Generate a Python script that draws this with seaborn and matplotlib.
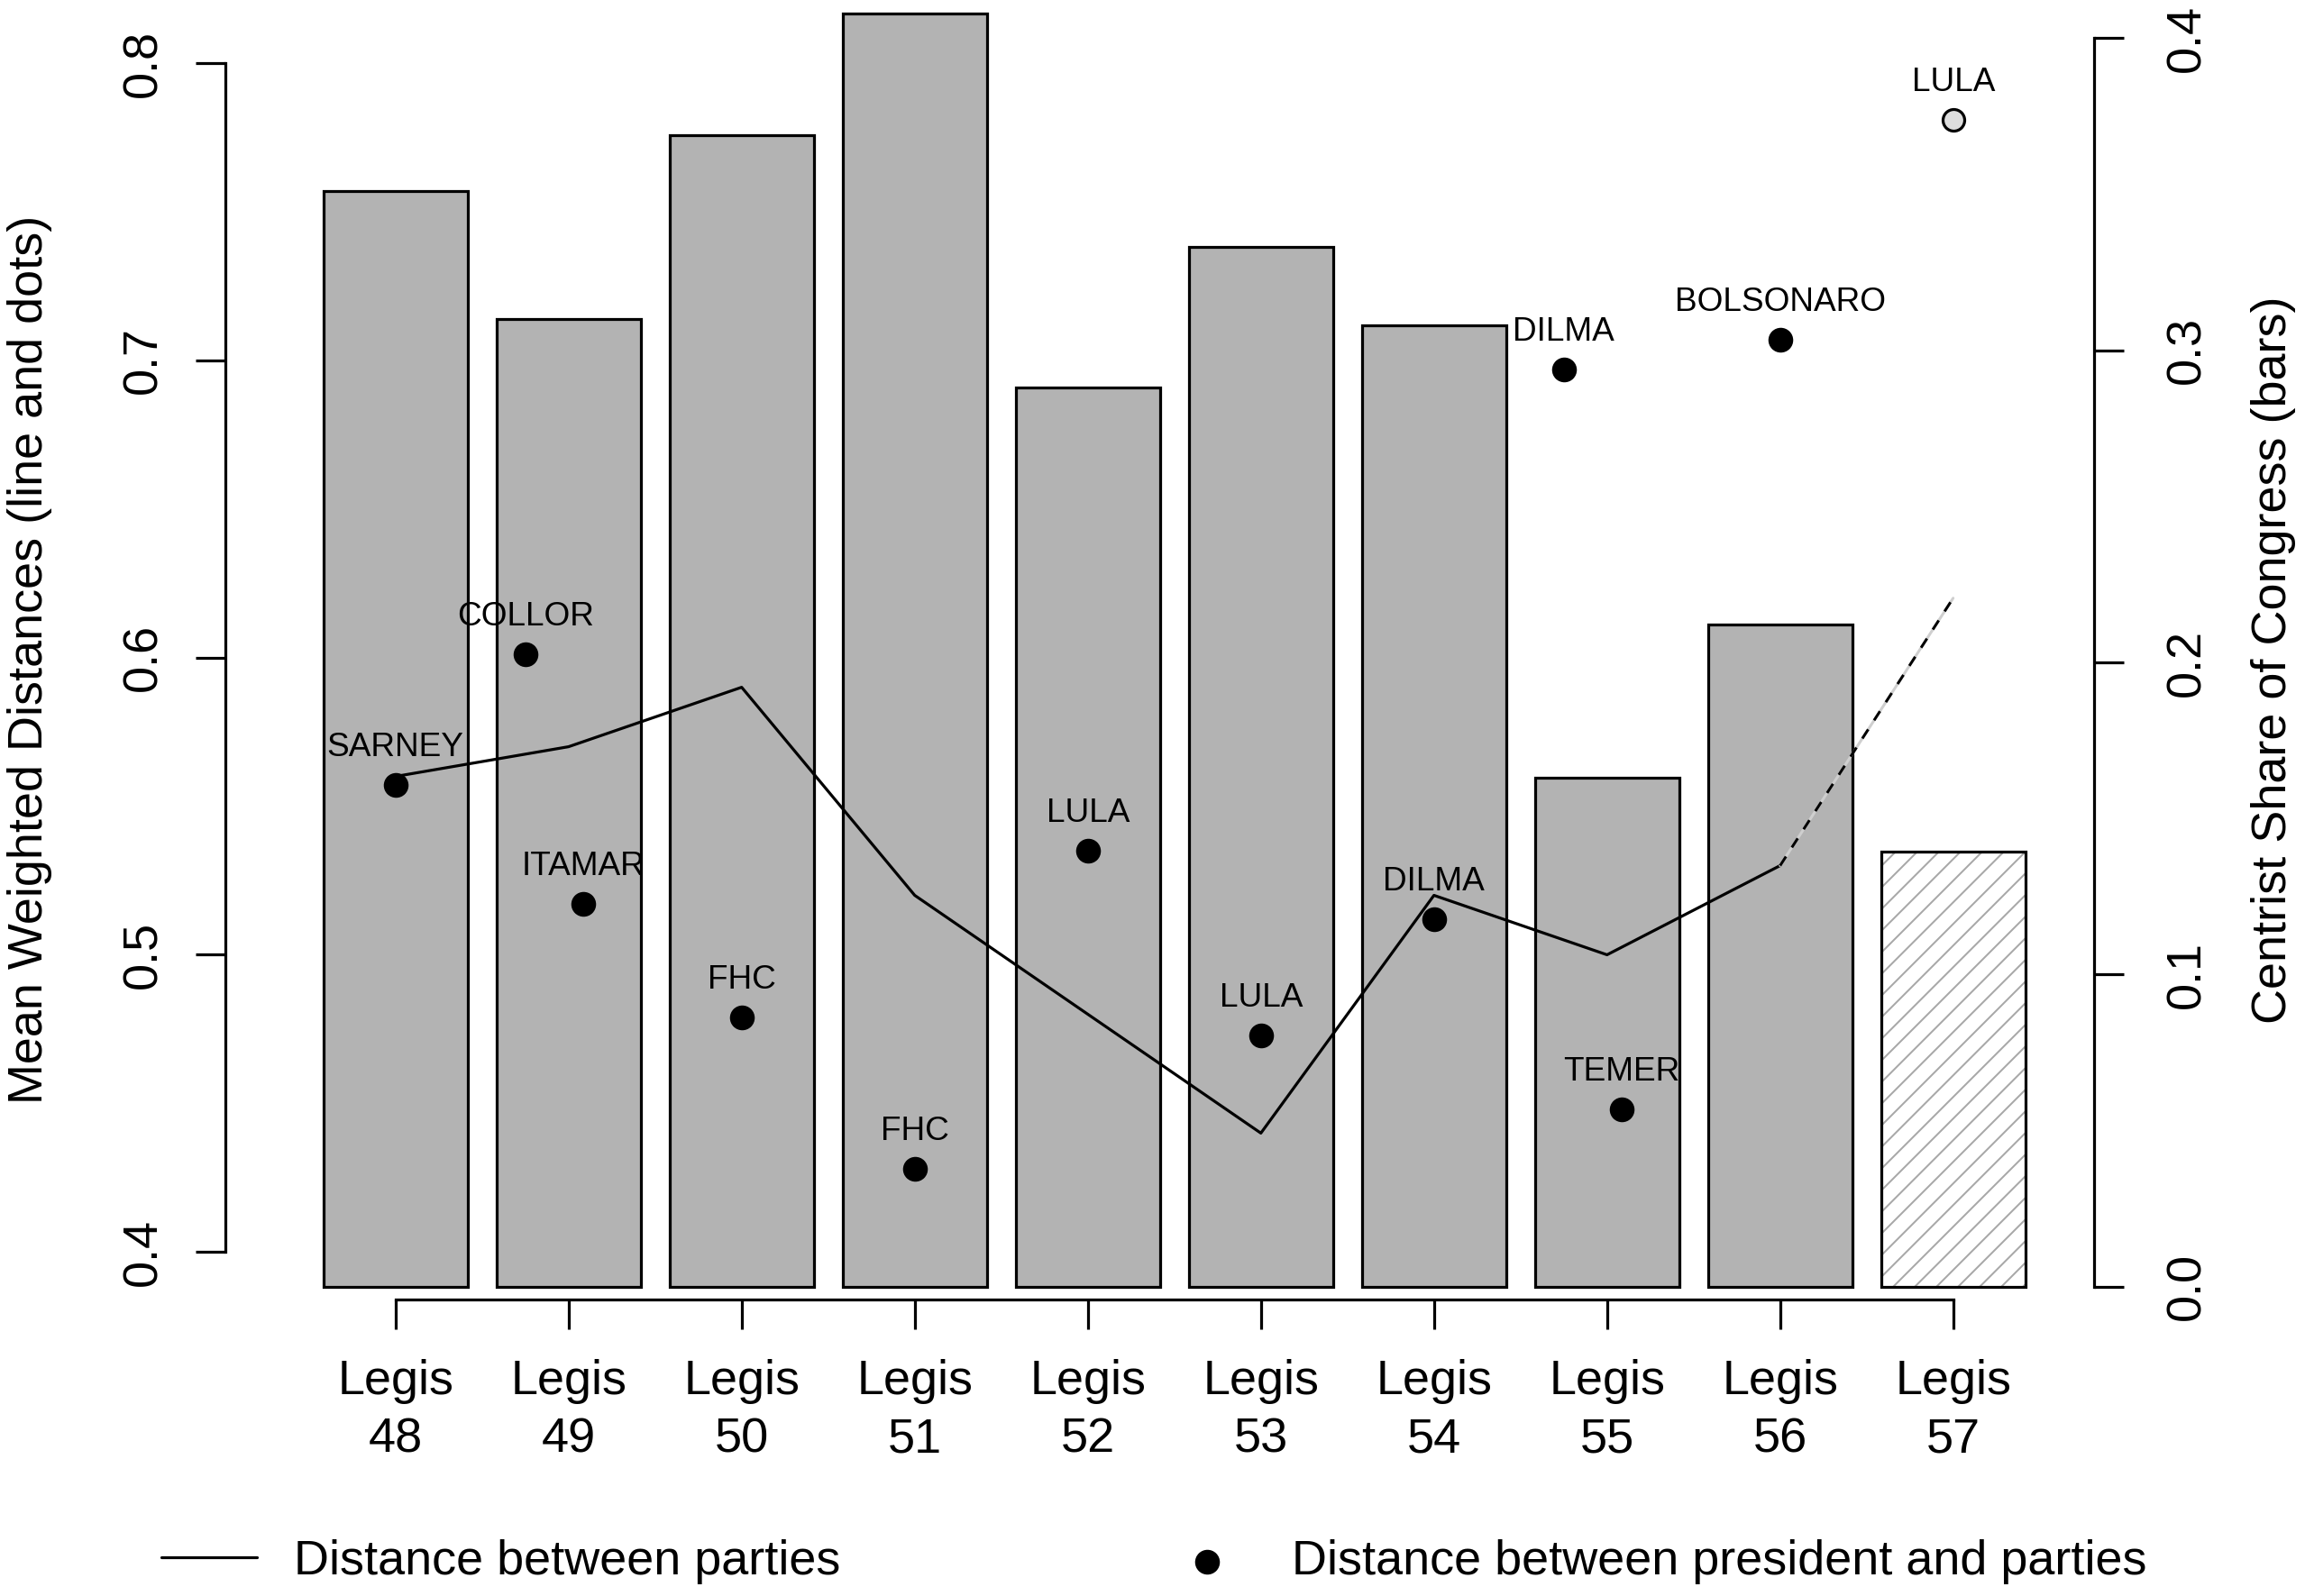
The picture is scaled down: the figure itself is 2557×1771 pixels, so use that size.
import matplotlib
matplotlib.use("Agg")
import matplotlib.pyplot as plt
import seaborn as sns

# legislatures and bar values (right axis)
legis = [48, 49, 50, 51, 52, 53, 54, 55, 56, 57]
legis_labels = [f"Legis\n{n}" for n in legis]
centrist_share = [0.351, 0.310, 0.369, 0.408, 0.288, 0.333, 0.308, 0.163, 0.212, 0.1395]

# mean weighted distance between parties (left axis)
party_distance = [0.560, 0.570, 0.590, 0.520, 0.480, 0.440, 0.520, 0.500, 0.530, 0.620]

# distance between president and parties (left axis)
presidents = ["SARNEY", "COLLOR", "ITAMAR", "FHC", "FHC", "LULA", "LULA",
              "DILMA", "DILMA", "TEMER", "BOLSONARO", "LULA"]
president_x = [48, 48.75, 49.083, 50, 51, 52, 53, 54, 54.75, 55.083, 56, 57]
president_distance = [0.557, 0.601, 0.517, 0.479, 0.428, 0.535, 0.473,
                      0.512, 0.697, 0.448, 0.707, 0.781]

left_ticks = [0.4, 0.5, 0.6, 0.7, 0.8]
right_ticks = [0.0, 0.1, 0.2, 0.3, 0.4]

LW = 3.2

sns.set_theme(style="white", rc={
    "axes.edgecolor": "black", "text.color": "black", "axes.labelcolor": "black",
    "xtick.color": "black", "ytick.color": "black", "axes.linewidth": LW,
    "xtick.bottom": True, "ytick.left": True, "hatch.linewidth": 2.0,
})
plt.rcParams["font.family"] = ["Liberation Sans", "DejaVu Sans"]

W, H = 2557, 1771
fig = plt.figure(figsize=(W / 72, H / 72), dpi=72)
ax_bar = fig.add_axes([250 / W, 1 - 1442 / H, 2073 / W, 1442 / H])

# ---- bars: centrist share ----
sns.barplot(x=legis, y=centrist_share, ax=ax_bar, native_scale=True, width=0.835,
            color="#B3B3B3", saturation=1, edgecolor="black", linewidth=LW,
            errorbar=None)
for p in ax_bar.patches:
    if abs(p.get_x() + p.get_width() / 2 - legis[-1]) < 0.01:
        p.set_facecolor("white")
        p.set_edgecolor("#A8A8A8")
        p.set_linewidth(0)
        p.set_hatch("/")
ax_bar.bar(legis[-1], centrist_share[-1], width=0.835, fill=False,
           edgecolor="black", linewidth=LW)

# ---- lines and dots on a twin axis ----
ax_line = ax_bar.twinx()
sns.lineplot(x=legis[:9], y=party_distance[:9], ax=ax_line, color="black",
             linewidth=LW, label="Distance between parties")
sns.lineplot(x=legis[8:], y=party_distance[8:], ax=ax_line, color="#CFCFCF",
             linewidth=3.0)
sns.lineplot(x=legis[8:], y=party_distance[8:], ax=ax_line, color="black",
             linewidth=3.0, linestyle=(0, (4, 4)))
sns.scatterplot(x=president_x[:-1], y=president_distance[:-1], ax=ax_line,
                color="black", edgecolor="black", linewidth=1.5, s=26 ** 2,
                label="Distance between president and parties", zorder=4)
sns.scatterplot(x=president_x[-1:], y=president_distance[-1:], ax=ax_line,
                color="#DDDDDD", edgecolor="black", linewidth=LW, s=24 ** 2,
                zorder=4)
for name, x, y in zip(presidents, president_x, president_distance):
    ax_line.annotate(name, (x, y), xytext=(0, 32), textcoords="offset points",
                     ha="center", va="baseline", fontsize=37)

handles, labels = ax_line.get_legend_handles_labels()
if ax_line.get_legend() is not None:
    ax_line.get_legend().remove()

# ---- axes, ticks, spines ----
ax_bar.set_xlim(47.017, 57.814)
ax_bar.set_ylim(-0.00413, 0.41221)
ax_line.set_ylim(0.38402, 0.82122)

ax_bar.yaxis.tick_right()
ax_line.yaxis.tick_left()

ax_bar.set_xticks(legis, legis_labels)
ax_bar.set_yticks(right_ticks, [f"{v:.1f}" for v in right_ticks])
ax_line.set_yticks(left_ticks, [f"{v:.1f}" for v in left_ticks])

ax_bar.tick_params(axis="x", bottom=True, length=33, width=LW, pad=33, labelsize=54)
ax_bar.tick_params(axis="y", right=True, length=33, width=LW, pad=45.7, labelsize=54)
ax_line.tick_params(axis="y", left=True, length=33, width=LW, pad=32.3, labelsize=54)
for lbl in ax_bar.get_xticklabels():
    lbl.set_linespacing(1.36)
plt.setp(ax_bar.get_yticklabels(), rotation=90, va="center")
plt.setp(ax_line.get_yticklabels(), rotation=90, va="center")

for ax in (ax_bar, ax_line):
    ax.set_xlabel("")
    ax.set_ylabel("")
    for s in ax.spines.values():
        s.set_visible(False)
ax_bar.spines["bottom"].set_visible(True)
ax_bar.spines["bottom"].set_bounds(legis[0], legis[-1])
ax_bar.spines["right"].set_visible(True)
ax_bar.spines["right"].set_bounds(0.0, 0.4)
ax_line.spines["left"].set_visible(True)
ax_line.spines["left"].set_bounds(0.4, 0.8)

fig.text(47 / W, 1 - 732 / H, "Mean Weighted Distances (line and dots)",
         rotation=90, rotation_mode="anchor", ha="center", va="baseline", fontsize=54)
fig.text(2536 / W, 1 - 732 / H, "Centrist Share of Congress (bars)",
         rotation=90, rotation_mode="anchor", ha="center", va="baseline", fontsize=54)

fig.legend(handles, labels, loc="center left", bbox_to_anchor=(179 / W, 1 - 1733 / H),
           ncol=2, frameon=False, fontsize=54, handlelength=1.963,
           handletextpad=0.76, columnspacing=6.54, borderpad=0, borderaxespad=0)

fig.savefig("out.png", dpi=72)
